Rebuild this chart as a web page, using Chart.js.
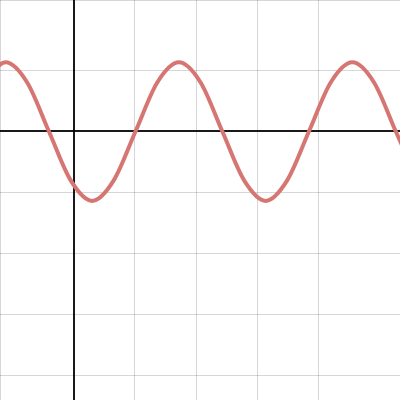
<!DOCTYPE html>
<html lang="en">
  <head>
    <meta charset="UTF-8" />
    <title>Wave</title>
    <script src="https://cdn.jsdelivr.net/npm/chart.js"></script>
    <style>
      html, body { margin: 0; padding: 0; background: #fff; }
      #wrap { width: 400px; height: 400px; }
    </style>
  </head>
  <body>
    <div id="wrap"><canvas id="wave"></canvas></div>
    <script>
      // points (grid units)
      const xs = [-1.475, -1.12, -0.765, -0.41, -0.055, 0.30, 0.655, 1.01, 1.365, 1.72, 2.075,
                  2.43, 2.785, 3.14, 3.495, 3.85, 4.205, 4.56, 4.915, 5.27, 5.625];
      const ys = [0.80, 1.13, 0.80, 0, -0.80, -1.14, -0.80, 0, 0.80, 1.13, 0.80,
                  0, -0.80, -1.14, -0.80, 0, 0.80, 1.13, 0.80, 0, -0.80];
      const xRange = [-1.21, 5.34];
      const yRange = [-4.40, 2.15];

      const gridColor = (ctx) =>
        ctx.tick && ctx.tick.value === 0 ? "rgba(0,0,0,0.9)" : "rgba(0,0,0,0.16)";
      const gridWidth = (ctx) => (ctx.tick && ctx.tick.value === 0 ? 2 : 1);

      const axis = (range) => ({
        type: "linear",
        min: range[0],
        max: range[1],
        ticks: { display: false, stepSize: 1 },
        grid: { color: gridColor, lineWidth: gridWidth, drawTicks: false },
        border: { display: false },
      });

      new Chart(document.getElementById("wave"), {
        type: "scatter",
        data: {
          datasets: [
            {
              data: xs.map((x, i) => ({ x: x, y: ys[i] })),
              showLine: true,
              borderColor: "rgb(214,118,115)",
              borderWidth: 4,
              pointRadius: 0,
              cubicInterpolationMode: "monotone",
            },
          ],
        },
        options: {
          responsive: true,
          maintainAspectRatio: false,
          animation: false,
          layout: { padding: 0 },
          plugins: { legend: { display: false }, tooltip: { enabled: false } },
          scales: { x: axis(xRange), y: axis(yRange) },
        },
      });
    </script>
  </body>
</html>
